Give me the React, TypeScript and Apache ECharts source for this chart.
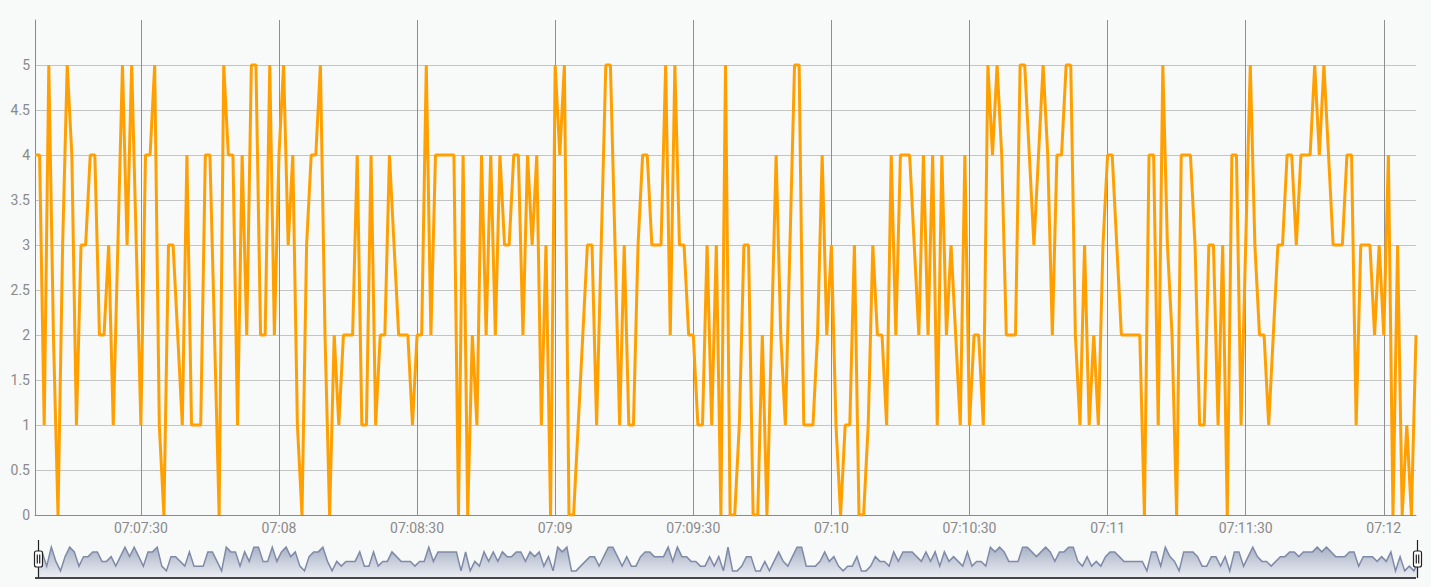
import React, { useEffect, useRef } from "react";
import * as echarts from "echarts";

// Sampling: one value per second starting at 07:07:07
const startClock = "07:07:07";
const stepSeconds = 1;

const values: number[] = [
  4, 4, 1, 5, 2, 0, 3, 5, 4, 1, 3, 3, 4, 4, 2, 2, 3, 1, 3, 5,
  3, 5, 3, 1, 4, 4, 5, 1, 0, 3, 3, 2, 1, 4, 1, 1, 1, 4, 4, 2,
  0, 5, 4, 4, 1, 4, 2, 5, 5, 2, 2, 5, 2, 4, 5, 3, 4, 1, 0, 3,
  4, 4, 5, 2, 0, 2, 1, 2, 2, 2, 4, 1, 1, 4, 1, 2, 2, 4, 3, 2,
  2, 2, 1, 2, 2, 5, 2, 4, 4, 4, 4, 4, 0, 4, 0, 2, 1, 4, 2, 4,
  2, 4, 3, 3, 4, 4, 2, 4, 3, 4, 1, 3, 0, 5, 4, 5, 0, 0, 1, 2,
  3, 3, 1, 3, 5, 5, 3, 1, 3, 1, 1, 3, 4, 4, 3, 3, 3, 5, 2, 5,
  3, 3, 2, 2, 1, 1, 3, 1, 3, 0, 5, 0, 0, 1, 3, 3, 0, 0, 2, 0,
  2, 4, 2, 1, 3, 5, 5, 1, 1, 1, 2, 4, 2, 3, 1, 0, 1, 1, 3, 0,
  0, 1, 3, 2, 2, 1, 4, 2, 4, 4, 4, 3, 2, 4, 2, 4, 1, 4, 2, 3,
  2, 1, 4, 1, 2, 2, 1, 5, 4, 5, 4, 2, 2, 2, 5, 5, 4, 3, 4, 5,
  4, 2, 4, 4, 5, 5, 2, 1, 3, 1, 2, 1, 3, 4, 4, 3, 2, 2, 2, 2,
  2, 0, 4, 4, 1, 5, 3, 2, 0, 4, 4, 4, 3, 1, 1, 3, 3, 1, 3, 0,
  4, 4, 1, 3, 5, 3, 2, 2, 1, 2, 3, 3, 4, 4, 3, 4, 4, 4, 5, 4,
  5, 4, 3, 3, 3, 4, 4, 1, 3, 3, 3, 2, 3, 2, 4, 0, 3, 0, 1, 0,
  2,
];

// x-axis tick labels (every 30 seconds)
const xTickLabels = [
  "07:07:30", "07:08", "07:08:30", "07:09", "07:09:30",
  "07:10", "07:10:30", "07:11", "07:11:30", "07:12",
];

const yMin = 0;
const yMax = 5.5;
const yInterval = 0.5;

const pad = (n: number) => (n < 10 ? "0" + n : "" + n);

// clock string -> seconds since midnight
const toSec = (label: string) => {
  const [h, m, s] = label.split(":").map((t) => parseInt(t, 10));
  return h * 3600 + m * 60 + (s || 0);
};

const secToLabel = (sec: number) => {
  const t = Math.round(sec);
  const h = Math.floor(t / 3600);
  const m = Math.floor((t % 3600) / 60);
  const s = t % 60;
  return s === 0 ? `${pad(h)}:${pad(m)}` : `${pad(h)}:${pad(m)}:${pad(s)}`;
};

export default function App() {
  const ref = useRef<HTMLDivElement>(null);

  useEffect(() => {
    if (!ref.current) return;
    const chart = echarts.init(ref.current, undefined, { renderer: "svg" });
    const start = toSec(startClock);
    const data = values.map((v, i) => [start + i * stepSeconds, v]);
    const end = start + (values.length - 1) * stepSeconds;
    const tickSecs = xTickLabels.map(toSec);

    const handleIcon =
      "path://M5,0V11 M1,13a2,2,0,0,1,2,-2h4a2,2,0,0,1,2,2v12a2,2,0,0,1,-2,2h-4a2,2,0,0,1,-2,-2z M5,27V38 M3.8,14.5V23.5 M6.2,14.5V23.5";

    const shadowArea = new echarts.graphic.LinearGradient(0, 0, 0, 1, [
      { offset: 0, color: "#eceef3" },
      { offset: 1, color: "#a9b2c6" },
    ]);

    chart.setOption({
      animation: false,
      backgroundColor: "#f8f9f9",
      textStyle: { fontFamily: "Roboto" },
      grid: { left: 35, right: 15, top: 20, bottom: 72, containLabel: false },
      xAxis: {
        type: "value",
        min: start,
        max: end,
        axisLine: { show: true, onZero: false, lineStyle: { color: "#8a8a8a", width: 1 } },
        axisTick: { show: false, customValues: tickSecs },
        splitLine: { show: true, lineStyle: { color: "#8f8f8f", width: 1 } },
        axisLabel: {
          customValues: tickSecs,
          color: "#8a8a8a",
          fontSize: 14,
          fontFamily: "Roboto",
          margin: 6,
          formatter: (val: number) => secToLabel(val),
        },
      },
      yAxis: {
        type: "value",
        min: yMin,
        max: yMax,
        interval: yInterval,
        axisLine: { show: true, lineStyle: { color: "#8a8a8a", width: 1 } },
        axisTick: { show: false },
        splitLine: { show: true, showMaxLine: false, lineStyle: { color: "#c4c4c4", width: 1 } },
        axisLabel: {
          color: "#8a8a8a",
          fontSize: 14,
          fontFamily: "Roboto",
          margin: 5,
          showMaxLabel: false,
        },
      },
      dataZoom: [
        {
          type: "slider",
          xAxisIndex: 0,
          start: 0,
          end: 100,
          left: 35,
          right: 15,
          top: 540,
          height: 38,
          showDetail: false,
          brushSelect: false,
          moveHandleSize: 0,
          backgroundColor: "rgba(0,0,0,0)",
          borderColor: "rgba(0,0,0,0)",
          fillerColor: "rgba(0,0,0,0)",
          handleIcon,
          handleSize: "100%",
          handleStyle: { color: "#ffffff", borderColor: "#222222", borderWidth: 1.2 },
          emphasis: { handleStyle: { color: "#ffffff", borderColor: "#222222" } },
          dataBackground: {
            lineStyle: { color: "#7e8aa8", width: 1.5, opacity: 1 },
            areaStyle: { color: shadowArea, opacity: 1 },
          },
          selectedDataBackground: {
            lineStyle: { color: "#7e8aa8", width: 1.5, opacity: 1 },
            areaStyle: { color: shadowArea, opacity: 1 },
          },
        },
      ],
      graphic: [
        {
          type: "line",
          silent: true,
          shape: { x1: 35, y1: 578, x2: 1416, y2: 578 },
          style: { stroke: "#454545", lineWidth: 2 },
          z: 100,
        },
      ],
      series: [
        {
          type: "line",
          data,
          showSymbol: false,
          symbol: "none",
          lineStyle: { color: "#ff9f00", width: 3 },
          itemStyle: { color: "#ff9f00" },
        },
      ],
    });

    return () => chart.dispose();
  }, []);

  return (
    <div
      ref={ref}
      style={{ position: "absolute", left: 0, top: 0, width: 1431, height: 587 }}
    />
  );
}
